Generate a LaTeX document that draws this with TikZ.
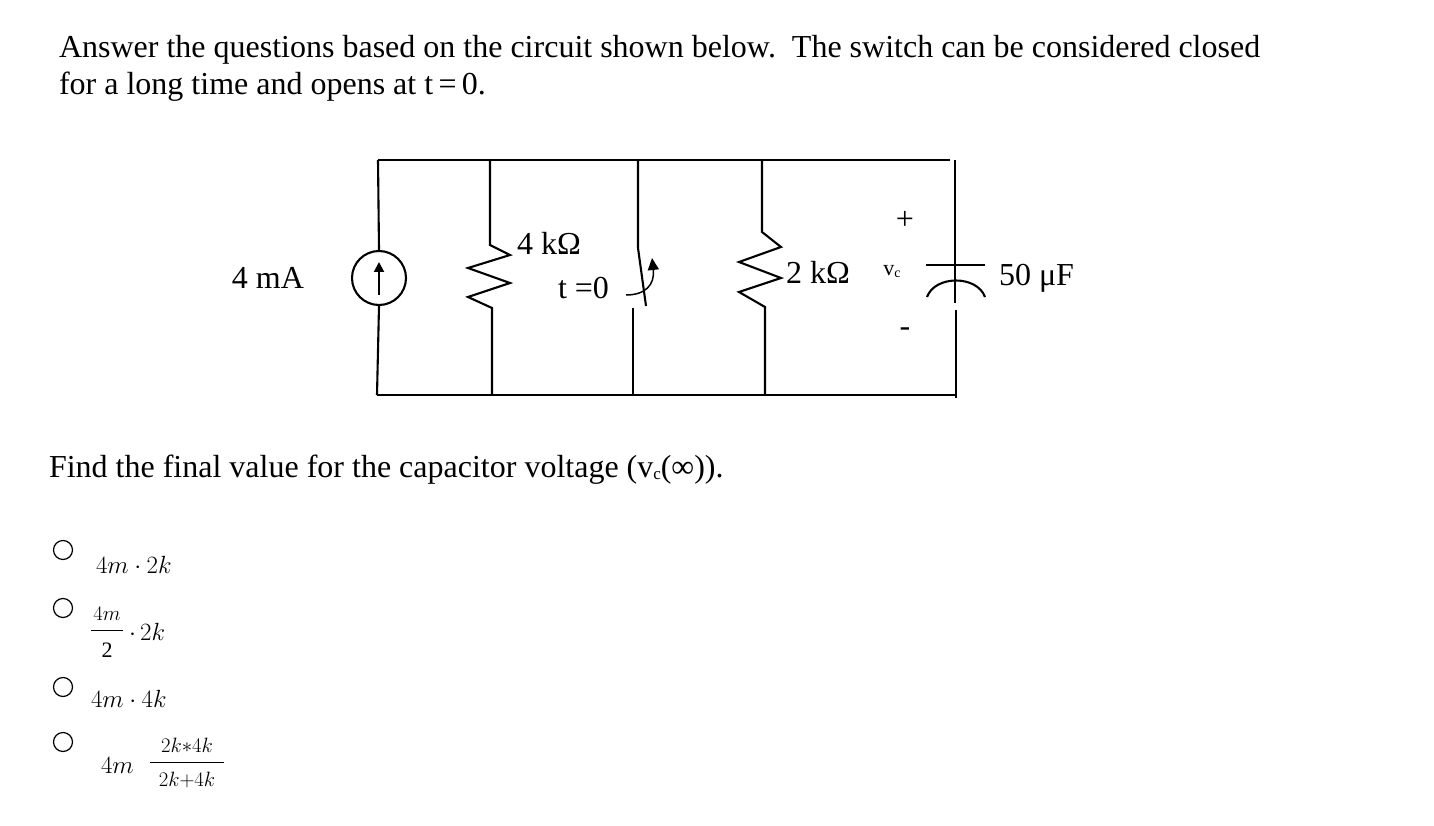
\documentclass[tikz,border=0pt]{standalone}
\usepackage{fontspec}
\setmainfont{Liberation Serif}
\usetikzlibrary{arrows.meta}
\begin{document}
\begin{tikzpicture}[x=1pt,y=-1pt,line width=2.1pt,
 txt/.style={inner sep=0pt,anchor=base west,font=\fontsize{32}{36}\selectfont},
 lbl/.style={inner sep=0pt,font=\fontsize{32}{36}\selectfont},
 mth/.style={inner sep=0pt,anchor=base west,font=\fontsize{35}{40}\selectfont},
 sm/.style={inner sep=0pt,font=\fontsize{22}{26}\selectfont},
 opt/.style={draw,line width=1.2pt,circle,minimum size=19pt,inner sep=0pt}]
\useasboundingbox (0,0) rectangle (1434,826);
\node[txt] (t1) at (58,58) {Answer the questions based on the circuit shown below.\ \ The switch can be considered closed};
\node[txt] (t2) at (58,95) {for a long time and opens at t\,=\,0.};
% wires
\draw (378,160) -- (950,160);
\draw (377,395) -- (955,395);
\node[circle,draw,minimum size=54pt,inner sep=0pt] (src) at (379,278) {};
\draw (378,160) -- (src.north);
\draw (src.south) -- (377,395);
\draw[-{Triangle[length=10pt,width=10pt]},line width=2pt] (379,295) -- (379,262);
\node[lbl,anchor=east] (ma) at (305,278) {4 mA};
% 4k resistor
\draw (490,160) -- (490,245) -- (510,255) -- (468,268) -- (510,283) -- (468,297) -- (492,308) -- (492,395);
\node[lbl,anchor=west] (r1) at (516,243) {4 kΩ};
% switch
\draw (638,160) -- (638,248) -- (646,306);
\draw (633,308) -- (633,395);
\draw[line width=1.5pt,-{Triangle[length=12pt,width=11pt]}] (626,295) .. controls (645,295) and (655,285) .. (652,258);
\node[lbl,anchor=east] (t0) at (610,288) {t =0};
% 2k resistor
\draw (762,160) -- (762,232) -- (781,247) -- (739,262) -- (781,278) -- (739,292) -- (765,307) -- (765,395);
\node[lbl,anchor=west] (r2) at (785,272) {2 kΩ};
\node[lbl] (vc) at (892,272) {\fontsize{22}{24}\selectfont v\raisebox{-2pt}{\fontsize{14}{14}\selectfont c}};
\node[lbl] (pl) at (905,220) {+};
\node[lbl] (mi) at (905,332) {-};
% capacitor
\draw (955,160) -- (955,303);
\draw (926,265) -- (985,265);
\draw (927,297) .. controls (935,275) and (977,275) .. (985,297);
\draw (956,310) -- (956,398);
\node[lbl,anchor=west] (cf) at (998,278) {50 μF};
\node[txt] (q) at (48,477) {Find the final value for the capacitor voltage (v\raisebox{-2pt}{\fontsize{17}{17}\selectfont c}(∞)).};
% options
\node[opt] (o1) at (63,550) {};
\node[opt] (o2) at (63,608) {};
\node[opt] (o3) at (63,687) {};
\node[opt] (o4) at (63,742) {};
\node[mth] (a1) at (95,573) {$4m\cdot 2k$};
\node[sm] (n2) at (107,614) {$4m$};
\draw[line width=1pt] (91,630) -- (123,630);
\node[sm] (d2) at (107,650) {2};
\node[mth] (a2) at (128,640) {$\cdot\, 2k$};
\node[mth] (a3) at (90,707) {$4m\cdot 4k$};
\node[mth] (a4) at (100,773) {$4m$};
\node[sm] (n4) at (187,745) {$2k{*}4k$};
\draw[line width=1pt] (150,762) -- (224,762);
\node[sm] (d4) at (187,780) {$2k{+}4k$};
\end{tikzpicture}
\end{document}
